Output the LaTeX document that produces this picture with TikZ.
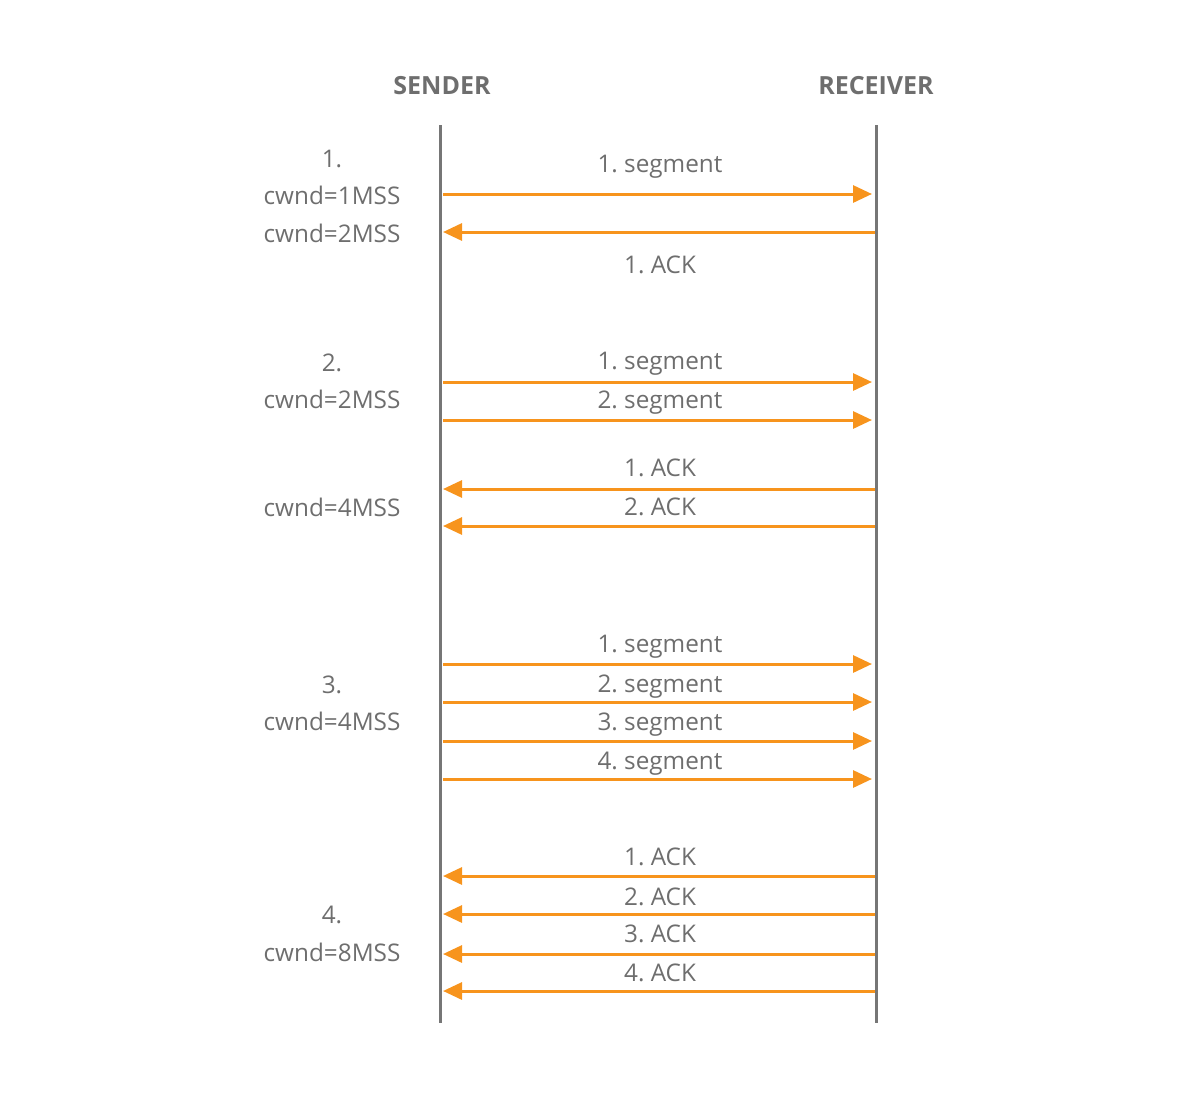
\documentclass[tikz,border=0pt]{standalone}
\usepackage{fontspec}
\setmainfont{Open Sans}
\usepackage{tikz}
\usetikzlibrary{arrows.meta, positioning}
\frenchspacing
\definecolor{txtgray}{RGB}{110,110,110}
\definecolor{linegray}{RGB}{118,118,118}
\definecolor{segorange}{RGB}{247,148,29}
\tikzstyle{lifeline} = [draw=linegray, line width=3pt]
\tikzstyle{msg}      = [draw=segorange, line width=3pt, -{Triangle[length=19pt, width=17pt]}, shorten <=3pt, shorten >=4pt]
\tikzstyle{ack}      = [draw=segorange, line width=3pt, -{Triangle[length=19pt, width=17pt]}, shorten <=1pt, shorten >=3pt]
\tikzstyle{lbl}      = [text=txtgray, font=\fontsize{24.3}{29}\selectfont, inner sep=0pt, anchor=base]
\tikzstyle{head}     = [lbl, font=\fontsize{25}{30}\selectfont\bfseries]

\begin{document}
\begin{tikzpicture}[x=1pt, y=-1pt]
\useasboundingbox (0,0) rectangle (1200,1100);

% header
\node [head] (snd) at (442,94) {SENDER};
\node [head] (rcv) at (876,94) {RECEIVER};

% lifelines
\coordinate (sndtop) at (440,125);
\coordinate (sndbot) at (440,1023);
\coordinate (rcvtop) at (876,125);
\coordinate (rcvbot) at (876,1023);
\draw [lifeline] (sndtop) -- (sndbot);
\draw [lifeline] (rcvtop) -- (rcvbot);

% cwnd labels
\foreach \b/\t in {167/1., 204/cwnd=1MSS, 242/cwnd=2MSS,
                   371/2., 408/cwnd=2MSS, 516/cwnd=4MSS,
                   693/3., 730/cwnd=4MSS,
                   923/4., 961/cwnd=8MSS}
  \node [lbl] at (332,\b) {\t};

% segments
\foreach \y/\t/\d in {194/1/22, 382/1/13, 420/2/12,
                      664/1/12, 702/2/10, 741/3/11, 779/4/10} {
  \coordinate (s\y) at (440,\y);
  \coordinate (r\y) at (876,\y);
  \path [msg] (s\y) -- node [lbl, xshift=2pt, yshift=\d pt] {\t. segment} (r\y);
}

% acks
\foreach \y/\t/\d in {232/1/-41, 489/1/13, 526/2/11,
                      876/1/11, 914/2/9, 954/3/12, 991/4/10} {
  \coordinate (r\y) at (876,\y);
  \coordinate (s\y) at (440,\y);
  \path [ack] (r\y) -- node [lbl, xshift=2pt, yshift=\d pt] {\t. ACK} (s\y);
}

\end{tikzpicture}
\end{document}
